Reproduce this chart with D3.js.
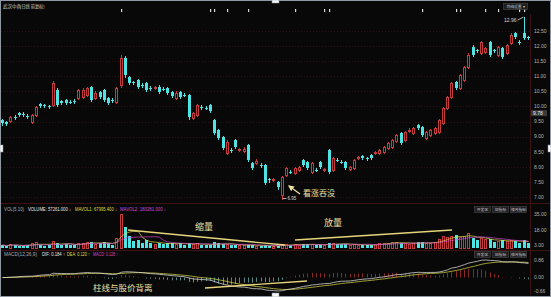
<!DOCTYPE html>
<html>
<head>
<meta charset="utf-8">
<script src="https://cdn.jsdelivr.net/npm/d3@7"></script>
<style>
  html, body { margin: 0; padding: 0; background: #080808; }
  svg { display: block; }
</style>
</head>
<body>
<svg id="chart" width="551" height="297"></svg>
<script>
// 日K线数据
const opens = [
  9.55, 9.49, 9.52, 9.66, 9.78, 9.76, 9.70, 9.49, 9.72, 10.08,
  10.05, 10.02, 10.05, 10.55, 10.17, 10.22, 10.16, 10.19, 10.28, 10.31,
  10.38, 10.65, 10.28, 10.48, 10.55, 10.28, 10.23, 10.15, 10.71, 11.60,
  10.98, 10.80, 10.88, 10.72, 10.78, 10.62, 10.61, 10.65, 10.59, 10.61,
  10.48, 10.28, 10.48, 10.39, 10.38, 9.62, 9.72, 9.99, 9.96, 10.05,
  9.55, 9.22, 8.99, 8.46, 8.57, 8.89, 8.56, 8.53, 8.73, 8.13,
  8.13, 8.07, 8.06, 7.58, 7.56, 7.50, 7.05, 7.73, 7.84, 7.80,
  7.90, 8.23, 8.16, 7.83, 7.91, 8.16, 7.90, 8.56, 7.90, 8.24,
  8.17, 8.16, 7.93, 7.96, 8.28, 8.36, 8.30, 8.39, 8.45, 8.46,
  8.49, 8.63, 8.66, 8.86, 9.12, 8.89, 9.21, 9.12, 9.39, 9.32,
  8.96, 9.06, 9.12, 9.16, 9.45, 9.95, 10.31, 10.81, 10.61, 10.88,
  11.31, 11.97, 11.88, 11.77, 11.82, 12.14, 11.88, 11.71, 11.94, 11.77,
  12.10, 12.43, 12.15, 12.43, 12.30
];
const closes = [
  9.45, 9.43, 9.65, 9.64, 9.72, 9.74, 9.68, 9.72, 9.98, 10.02,
  10.03, 10.00, 10.78, 10.05, 10.13, 10.12, 10.14, 10.17, 10.55, 10.55,
  10.61, 10.22, 10.45, 10.31, 10.22, 10.12, 10.21, 10.61, 11.62, 11.04,
  10.78, 10.78, 10.65, 10.70, 10.55, 10.60, 10.63, 10.48, 10.57, 10.45,
  10.35, 10.45, 10.31, 10.37, 9.65, 9.78, 10.05, 9.97, 9.94, 9.85,
  9.12, 8.96, 8.63, 8.82, 8.55, 8.66, 8.58, 8.60, 8.23, 7.96,
  8.20, 8.05, 7.47, 7.56, 7.58, 7.33, 7.67, 7.96, 7.82, 7.96,
  8.00, 8.06, 7.96, 8.13, 7.89, 8.00, 7.92, 7.83, 8.29, 8.22,
  8.15, 7.96, 8.00, 8.23, 8.32, 8.30, 8.28, 8.29, 8.49, 8.56,
  8.66, 8.79, 8.89, 9.06, 8.79, 9.16, 9.23, 9.29, 9.29, 9.06,
  9.16, 9.22, 9.29, 9.55, 9.95, 10.31, 10.78, 10.61, 11.04, 11.31,
  11.71, 11.71, 11.86, 12.14, 11.94, 11.71, 11.86, 11.97, 11.64, 12.04,
  12.37, 12.30, 12.12, 12.27, 12.28
];
const highs = [
  9.60, 9.53, 9.70, 9.72, 9.82, 9.80, 9.75, 9.75, 10.02, 10.12,
  10.09, 10.06, 10.85, 10.62, 10.22, 10.26, 10.20, 10.24, 10.58, 10.60,
  10.66, 10.68, 10.50, 10.52, 10.58, 10.32, 10.27, 10.66, 11.70, 11.66,
  11.02, 10.85, 10.92, 10.77, 10.82, 10.67, 10.68, 10.70, 10.63, 10.65,
  10.52, 10.50, 10.52, 10.44, 10.42, 9.82, 10.09, 10.04, 10.00, 10.08,
  9.60, 9.26, 9.03, 8.90, 8.62, 8.93, 8.63, 8.66, 8.77, 8.17,
  8.25, 8.11, 8.10, 7.62, 7.63, 7.54, 7.70, 8.00, 7.88, 8.00,
  8.04, 8.27, 8.20, 8.17, 7.95, 8.20, 7.96, 8.60, 8.33, 8.28,
  8.21, 8.20, 8.04, 8.27, 8.36, 8.40, 8.34, 8.43, 8.53, 8.60,
  8.70, 8.83, 8.93, 9.10, 9.16, 9.20, 9.28, 9.33, 9.43, 9.36,
  9.20, 9.26, 9.33, 9.59, 9.99, 10.35, 10.82, 10.85, 11.08, 11.35,
  11.76, 12.02, 11.92, 12.18, 11.98, 12.18, 11.92, 12.01, 11.98, 12.08,
  12.42, 12.47, 12.20, 12.96, 12.35
];
const lows = [
  9.40, 9.38, 9.48, 9.60, 9.68, 9.70, 9.62, 9.45, 9.70, 9.98,
  9.99, 9.95, 10.02, 10.00, 10.08, 10.08, 10.10, 10.12, 10.25, 10.28,
  10.35, 10.18, 10.24, 10.27, 10.18, 10.08, 10.16, 10.12, 10.65, 10.98,
  10.74, 10.74, 10.60, 10.66, 10.52, 10.56, 10.57, 10.44, 10.53, 10.40,
  10.30, 10.24, 10.27, 10.33, 9.60, 9.58, 9.70, 9.93, 9.90, 9.80,
  9.08, 8.92, 8.58, 8.42, 8.50, 8.62, 8.52, 8.49, 8.19, 7.92,
  8.08, 8.01, 7.42, 7.51, 7.52, 7.25, 6.95, 7.70, 7.78, 7.77,
  7.87, 8.02, 7.92, 7.80, 7.85, 7.96, 7.86, 7.80, 7.87, 8.18,
  8.11, 7.92, 7.90, 7.93, 8.25, 8.27, 8.24, 8.25, 8.42, 8.43,
  8.46, 8.60, 8.63, 8.83, 8.75, 8.85, 9.17, 9.09, 9.25, 9.02,
  8.93, 9.03, 9.09, 9.13, 9.42, 9.92, 10.28, 10.57, 10.58, 10.85,
  11.28, 11.67, 11.82, 11.74, 11.78, 11.67, 11.82, 11.68, 11.60, 11.74,
  12.06, 12.26, 12.08, 12.22, 12.24
];
// 成交量（万手，估读）
const volumes = [
  3, 2, 4, 3, 2, 2, 3, 5, 6, 3, 2, 3,
  7, 5, 3, 4, 3, 3, 5, 5, 6, 6, 4, 5, 6, 5, 3, 10,
  35, 22, 12, 7, 8, 5, 8, 5, 4, 5, 4, 5, 5, 4, 5, 3, 5, 4, 5, 3, 3, 3,
  6, 5, 4, 4, 3, 3, 3, 3, 3, 3, 2, 2, 3, 2, 2, 2, 4,
  4, 3, 4, 3, 4, 4, 4, 3, 3, 3, 5, 5, 4, 4, 4, 3, 4, 3, 3, 3, 3,
  4, 5, 5, 5, 6, 6, 5, 5, 4, 5, 6, 6, 5, 5, 6,
  9, 12, 11, 12, 13, 11, 12, 15, 10, 8, 10, 9, 9, 6, 7, 8, 7, 8, 7, 5, 8, 5
];
const priceTicks = [7.0, 7.5, 8.0, 8.5, 9.0, 9.5, 10.0, 10.5, 11.0, 11.5, 12.0, 12.5];
const volTicks = [35, 18, 3];
// 信息地雷所在K线
const infoMarks = [28, 49, 50, 53, 58, 69, 76, 77, 99, 107, 108, 114, 117, 122, 123];

const W = 551, H = 297;
const bg = '#080808';
const upColor = '#c53a3a';
const downColor = '#4fe3e3';
const noteColor = '#f0e1a2';
const latin = 'Liberation Sans, Arial, sans-serif';
const cjk = '"Noto Sans CJK SC", sans-serif';

const svg = d3.select('#chart');
svg.append('rect').attr('width', W).attr('height', H).attr('fill', bg);

const n = opens.length;
const x = d3.scaleBand().domain(d3.range(n)).range([1, 530]).paddingInner(0.25);
const left = i => Math.round(x(i));
const y = d3.scaleLinear().domain([7, 12.5]).range([197, 31]);
const vy = d3.scaleLinear().domain([0, 35]).range([248, 214]);

const candles = d3.range(n).map(i => ({
    i, o: opens[i], c: closes[i], h: highs[i], l: lows[i], v: volumes[i], up: closes[i] >= opens[i]
}));

// 网格与分隔线
svg.append('g').selectAll('line').data(priceTicks).join('line')
    .attr('x1', 1).attr('x2', 530)
    .attr('y1', d => Math.round(y(d)) + 0.5).attr('y2', d => Math.round(y(d)) + 0.5)
    .attr('stroke', '#2b1414').attr('stroke-dasharray', '1,2');

svg.append('g').selectAll('line').data([203, 250]).join('line')
    .attr('x1', 1).attr('x2', W - 1).attr('y1', d => d + 0.5).attr('y2', d => d + 0.5)
    .attr('stroke', '#3d1212');
svg.append('line').attr('x1', 530.5).attr('x2', 530.5).attr('y1', 14).attr('y2', 295)
    .attr('stroke', '#3d1212');

// 右侧价格坐标
svg.append('g').selectAll('text').data(priceTicks).join('text')
    .attr('x', 534).attr('y', d => y(d) + 1.8)
    .attr('font-family', latin).attr('font-size', 5).attr('fill', '#b4b4b4')
    .text(d => d.toFixed(2));

// 主图K线
const kg = svg.append('g').attr('shape-rendering', 'crispEdges');
kg.selectAll('line').data(candles).join('line')
    .attr('x1', d => left(d.i) + 1.5).attr('x2', d => left(d.i) + 1.5)
    .attr('y1', d => Math.round(y(d.h))).attr('y2', d => Math.round(y(d.l)) + 1)
    .attr('stroke', d => d.up ? upColor : downColor);
kg.selectAll('rect.body').data(candles).join('rect').attr('class', 'body')
    .attr('x', d => d.up ? left(d.i) + 0.5 : left(d.i))
    .attr('y', d => d.up ? Math.round(y(d.c)) + 0.5 : Math.round(y(d.o)))
    .attr('width', d => d.up ? 2 : 3)
    .attr('height', d => {
        const hgt = Math.abs(Math.round(y(d.o)) - Math.round(y(d.c)));
        return d.up ? Math.max(0.5, hgt) : Math.max(1, hgt);
    })
    .attr('fill', d => d.up ? bg : downColor)
    .attr('stroke', d => d.up ? upColor : 'none');

// 信息地雷
svg.append('g').selectAll('rect').data(infoMarks).join('rect')
    .attr('x', d => left(d) + 1).attr('y', 9).attr('width', 1.2).attr('height', 3)
    .attr('fill', '#dcdcdc');

// 最高价、最低价标注
const hiIdx = d3.maxIndex(highs), loIdx = d3.minIndex(lows);
const hx = left(hiIdx) + 1.5, hy = y(highs[hiIdx]);
svg.append('line').attr('x1', hx - 7).attr('y1', hy + 3).attr('x2', hx - 1).attr('y2', hy)
    .attr('stroke', '#d8d8d8').attr('stroke-width', 0.8);
svg.append('text').attr('x', hx - 8).attr('y', hy + 5).attr('text-anchor', 'end')
    .attr('font-family', latin).attr('font-size', 5).attr('fill', '#d8d8d8')
    .text(highs[hiIdx].toFixed(2));
const lx = left(loIdx) + 1.5, ly = y(lows[loIdx]);
svg.append('line').attr('x1', lx).attr('y1', ly).attr('x2', lx + 4).attr('y2', ly)
    .attr('stroke', '#d8d8d8').attr('stroke-width', 0.8);
svg.append('text').attr('x', lx + 5).attr('y', ly + 1.5)
    .attr('font-family', latin).attr('font-size', 4.5).attr('fill', '#d8d8d8')
    .text(lows[loIdx].toFixed(2));

// 标题
svg.append('text').attr('x', 3).attr('y', 8)
    .attr('font-family', cjk).attr('font-size', 4.5).attr('fill', '#cfcfcf')
    .text('武汉中商');
svg.append('text').attr('x', 20).attr('y', 8)
    .attr('font-family', cjk).attr('font-size', 4.2).attr('fill', '#cfcfcf')
    .text('(日线 前复权)');

// 右上角按钮
function button(bx, by, w, label) {
    svg.append('rect').attr('x', bx + 0.5).attr('y', by + 0.5).attr('width', w).attr('height', 6)
        .attr('fill', '#1e1e1e').attr('stroke', '#4a4a4a').attr('stroke-width', 0.6);
    svg.append('text').attr('x', bx + w / 2 + 0.5).attr('y', by + 5).attr('text-anchor', 'middle')
        .attr('font-family', cjk).attr('font-size', 3.8).attr('fill', '#c8c8c8').text(label);
}
button(503, 3, 24, '均线设置 ▾');
[[474, '开发区'], [492, '加指标'], [510, '修改指标']].forEach(([bx, t]) => {
    button(bx, 206, 16, t);
    button(bx, 251, 16, t);
});

// 当前位置价格框
const cursorPrice = 9.78;
svg.append('rect').attr('x', 531).attr('y', y(cursorPrice) - 3).attr('width', 16).attr('height', 6)
    .attr('fill', '#3a3a3a');
svg.append('text').attr('x', 533).attr('y', y(cursorPrice) + 1.8)
    .attr('font-family', latin).attr('font-size', 5).attr('fill', '#eeeeee')
    .text(cursorPrice.toFixed(2));

// 成交量
const vg = svg.append('g').attr('shape-rendering', 'crispEdges');
vg.selectAll('rect').data(candles).join('rect')
    .attr('x', d => d.up ? left(d.i) + 0.5 : left(d.i))
    .attr('y', d => d.up ? Math.round(vy(d.v)) + 0.5 : Math.round(vy(d.v)))
    .attr('width', d => d.up ? 2 : 3)
    .attr('height', d => Math.max(1, 248 - Math.round(vy(d.v))))
    .attr('fill', d => d.up ? bg : downColor)
    .attr('stroke', d => d.up ? upColor : 'none');

function movingAvg(arr, k) {
    return arr.map((_, i) => d3.mean(arr.slice(Math.max(0, i - k + 1), i + 1)));
}
const mavol1 = movingAvg(volumes, 5);
const mavol2 = movingAvg(volumes, 10);
const vline = d3.line().x((d, i) => left(i) + 1.5).y(d => vy(d));
svg.append('path').attr('d', vline(mavol1)).attr('fill', 'none')
    .attr('stroke', '#dede4a').attr('stroke-width', 0.7);
svg.append('path').attr('d', vline(mavol2)).attr('fill', 'none')
    .attr('stroke', '#d24ad2').attr('stroke-width', 0.7);

svg.append('g').selectAll('text').data(volTicks).join('text')
    .attr('x', 534).attr('y', d => vy(d) + 1.8)
    .attr('font-family', latin).attr('font-size', 5).attr('fill', '#b4b4b4')
    .text(d => d.toFixed(2));

function header(yPos, parts) {
    parts.forEach(([tx, len, color, t]) => {
        svg.append('text').attr('x', tx).attr('y', yPos)
            .attr('font-family', latin).attr('font-size', 4.6).attr('fill', color)
            .attr('textLength', len).attr('lengthAdjust', 'spacingAndGlyphs')
            .text(t);
    });
}
header(211, [
    [4, 20, '#a8a8a8', 'VOL(5,10)'],
    [28, 43, '#e6e6e6', 'VOLUME: 57261.000 ↓'],
    [75, 42, '#dede4a', 'MAVOL1: 67995.400 ↓'],
    [120, 46, '#d24ad2', 'MAVOL2: 180281.000 ↓']
]);
header(256, [
    [4, 33, '#a8a8a8', 'MACD(12,26,9)'],
    [42, 23, '#e6e6e6', 'DIF: 0.184 ↑'],
    [67, 23, '#dede4a', 'DEA: 0.120 ↑'],
    [93, 25, '#d24ad2', 'MACD: 0.128 ↑']
]);

// MACD（由收盘价计算）
function ema(arr, k) {
    const a = 2 / (k + 1), out = [];
    arr.forEach((v, i) => out.push(i === 0 ? v : v * a + out[i - 1] * (1 - a)));
    return out;
}
const ema12 = ema(closes, 12), ema26 = ema(closes, 26);
const dif = closes.map((_, i) => ema12[i] - ema26[i]);
const dea = ema(dif, 9);
const macd = dif.map((d, i) => 2 * (d - dea[i]));
const my = d3.scaleLinear().domain(d3.extent(dif.concat(dea, macd))).range([291, 260]);

svg.append('g').selectAll('line').data(macd).join('line')
    .attr('x1', (d, i) => left(i) + 1.5).attr('x2', (d, i) => left(i) + 1.5)
    .attr('y1', my(0)).attr('y2', d => my(d))
    .attr('stroke', d => d >= 0 ? upColor : '#7fc6c6').attr('stroke-width', 0.8)
    .attr('opacity', 0.85);
const mline = d3.line().x((d, i) => left(i) + 1.5).y(d => my(d));
svg.append('path').attr('d', mline(dea)).attr('fill', 'none')
    .attr('stroke', '#dede4a').attr('stroke-width', 0.7);
svg.append('path').attr('d', mline(dif)).attr('fill', 'none')
    .attr('stroke', '#ececec').attr('stroke-width', 0.7);

const macdTicks = [d3.max(dif.concat(dea, macd)), 0, d3.min(dif.concat(dea, macd))];
svg.append('g').selectAll('text').data(macdTicks).join('text')
    .attr('x', 534).attr('y', d => my(d) + 1.8)
    .attr('font-family', latin).attr('font-size', 5).attr('fill', '#b4b4b4')
    .text(d => d.toFixed(2));

// 注释
svg.append('defs').append('marker').attr('id', 'arrow')
    .attr('viewBox', '0 0 10 10').attr('refX', 8).attr('refY', 5)
    .attr('markerWidth', 5).attr('markerHeight', 5).attr('orient', 'auto')
    .append('path').attr('d', 'M0,0 L10,5 L0,10 z').attr('fill', noteColor);
svg.append('line').attr('x1', 300).attr('y1', 194).attr('x2', 289).attr('y2', 186)
    .attr('stroke', noteColor).attr('stroke-width', 1.2).attr('marker-end', 'url(#arrow)');

const notes = [
    ['看涨吞没', 303, 196, 8],
    ['缩量', 195, 230, 9],
    ['放量', 324, 226, 9],
    ['柱线与股价背离', 93, 291, 8.5]
];
svg.append('g').selectAll('text').data(notes).join('text')
    .attr('x', d => d[1]).attr('y', d => d[2])
    .attr('font-family', cjk).attr('font-size', d => d[3]).attr('fill', noteColor)
    .text(d => d[0]);

const noteLines = [
    [128, 230, 285, 245],
    [295, 240, 452, 230],
    [205, 288, 307, 281]
];
svg.append('g').selectAll('line').data(noteLines).join('line')
    .attr('x1', d => d[0]).attr('y1', d => d[1]).attr('x2', d => d[2]).attr('y2', d => d[3])
    .attr('stroke', '#e6d47a').attr('stroke-width', 1.3);

// 截图边框与控制点
svg.append('rect').attr('x', 0.5).attr('y', 0.5).attr('width', W - 1).attr('height', H - 1)
    .attr('fill', 'none').attr('stroke', '#8f98a3');
[[W / 2 - 3.5, 0, 7, 3], [0, H / 2 - 3.5, 3, 7], [W - 3, H / 2 - 3.5, 3, 7], [W / 2 - 3.5, H - 4, 7, 4]]
    .forEach(([hx0, hy0, w, h]) => {
        svg.append('rect').attr('x', hx0).attr('y', hy0).attr('width', w).attr('height', h)
            .attr('fill', '#f4f6f8').attr('stroke', '#8f98a3').attr('stroke-width', 0.5);
    });
</script>
</body>
</html>
